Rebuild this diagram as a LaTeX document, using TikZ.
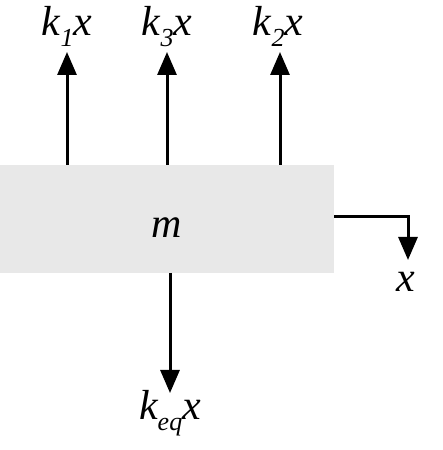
\documentclass[tikz,border=0pt]{standalone}
\usepackage{fontspec}
\setmainfont{Liberation Serif}
\usetikzlibrary{positioning, arrows.meta}
\tikzstyle{mass} = [rectangle, fill=black!9, minimum width=334pt, minimum height=108pt, inner sep=0pt]
\tikzstyle{force} = [line width=3pt, -{Triangle[width=19pt,length=23pt]}]
\tikzstyle{lbl} = [font=\fontsize{42}{44}\selectfont\itshape, inner sep=0pt]
\newcommand{\sbs}[1]{\raisebox{-0.26em}{\fontsize{26}{26}\selectfont #1}}

\begin{document}
\begin{tikzpicture}[x=1pt,y=1pt]
		\useasboundingbox (0,0) rectangle (442,450);
		\node (mass) [mass, anchor=south west] at (0,177) {};
		\node (mname) [lbl] at (167,222) {m};
		\coordinate (b1) at (67,285);
		\coordinate (b3) at (167,285);
		\coordinate (b2) at (280,285);
		\coordinate (t1) at (67,398);
		\coordinate (t3) at (167,398);
		\coordinate (t2) at (280,398);
		\node (k1) [lbl, anchor=base] at (67,414) {k\sbs{1}x};
		\node (k3) [lbl, anchor=base] at (167,414) {k\sbs{3}x};
		\node (k2) [lbl, anchor=base] at (278,414) {k\sbs{2}x};
		\coordinate (bb) at (170,177);
		\coordinate (tb) at (170,57);
		\node (keq) [lbl, anchor=base] at (170,30) {k\sbs{eq}x};
		\coordinate (r0) at (334,233);
		\coordinate (r1) at (408,233);
		\coordinate (r2) at (408,190);
		\node (xd) [lbl, anchor=base] at (406,158) {x};
		\draw [force] (b1) -- (t1);
		\draw [force] (b3) -- (t3);
		\draw [force] (b2) -- (t2);
		\draw [force] (bb) -- (tb);
		\draw [force] (r0) -- (r1) -- (r2);
	\end{tikzpicture}
\end{document}
